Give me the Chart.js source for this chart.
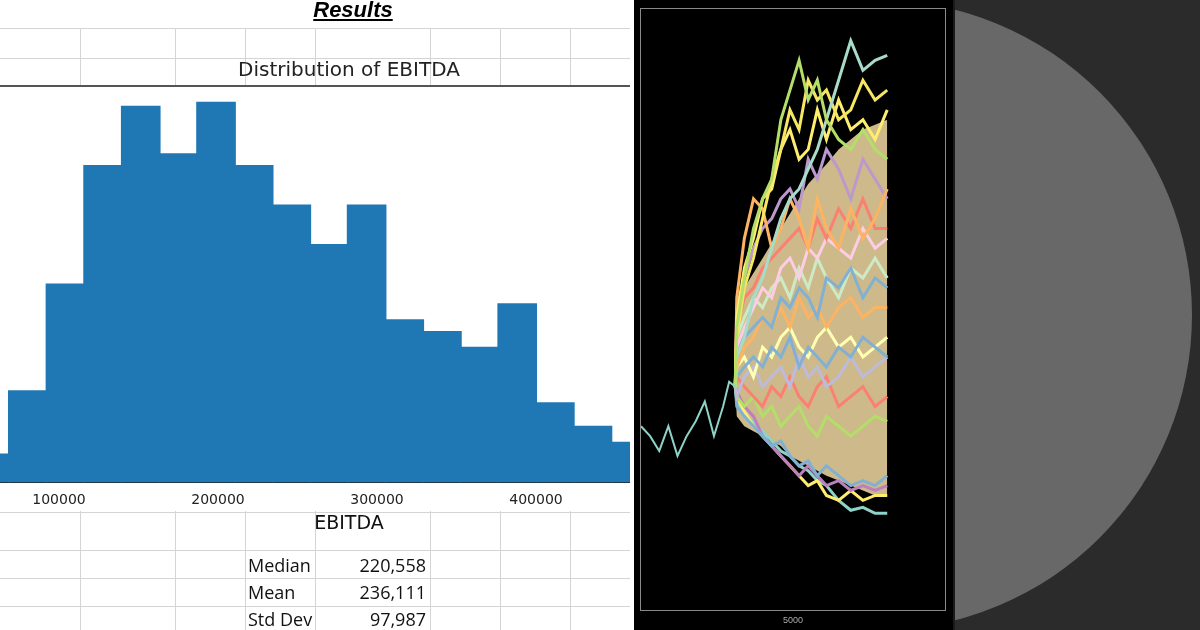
<!DOCTYPE html>
<html>
<head>
<meta charset="utf-8">
<script src="https://cdn.jsdelivr.net/npm/chart.js@4"></script>
<style>
  body { margin: 0; width: 1200px; height: 630px; overflow: hidden; background: #fff; font-family: Calibri, "Liberation Sans", "Open Sans", sans-serif; position: relative; }
  .abs { position: absolute; }
  #sheet { left: 0; top: 0; }
  #histBox { left: 0; top: 87px; width: 630px; height: 424px; background: #fff; }
  #topRule { left: 0; top: 85px; width: 630px; height: 2px; background: #555; }
  #title { left: 0; width: 706px; top: -3px; text-align: center; font: italic bold 22px "Liberation Sans", sans-serif; text-decoration: underline; }
  #subtitle { left: 0; width: 698px; top: 57px; text-align: center; font: 20px "DejaVu Sans", sans-serif; color: #222; }
  #xlabel { left: 0; width: 698px; top: 511px; text-align: center; font: 19px "DejaVu Sans", sans-serif; color: #111; }
  .row { left: 248px; width: 178px; font: 18px "Open Sans", sans-serif; color: #111; }
  .row span { float: right; }
  #mid { left: 634px; top: 0; width: 319px; height: 630px; background: #000; }
  #frame { left: 640px; top: 8px; width: 304px; height: 601px; border: 1px solid #8a8a8a; }
  #pathBox { left: 641px; top: 9px; width: 304px; height: 620px; }
  #right { left: 953px; top: 0; width: 247px; height: 630px; background: #2b2b2b; overflow: hidden; border-left: 2px solid #1a1a1a; }
  #disc { left: -393px; top: 0; width: 630px; height: 630px; border-radius: 50%; background: #686868; }
</style>
</head>
<body>
<canvas id="sheet" class="abs" width="630" height="630"></canvas>
<div id="title" class="abs">Results</div>
<div id="subtitle" class="abs">Distribution of EBITDA</div>
<div id="histBox" class="abs"><canvas id="hist"></canvas></div>
<div id="topRule" class="abs"></div>
<div id="xlabel" class="abs">EBITDA</div>
<div class="abs row" style="top:553px">Median<span>220,558</span></div>
<div class="abs row" style="top:580px">Mean<span>236,111</span></div>
<div class="abs row" style="top:607px">Std Dev<span>97,987</span></div>
<div id="mid" class="abs"></div>
<div id="frame" class="abs"></div>
<div id="pathBox" class="abs"><canvas id="paths"></canvas></div>
<div id="right" class="abs"><div id="disc" class="abs"></div></div>
<script>
// Histogram data (bin edges and counts)
const binStart = 44875;
const binWidth = 23675;
const binCounts = [7, 23, 50, 80, 95, 83, 96, 80, 70, 60, 70, 41, 38, 34, 45, 20, 14, 10];
const histTicks = [100000, 200000, 300000, 400000];

// Simulated paths, heights given as pixel rows
const histX = [0, 300, 600, 900, 1200, 1500, 1800, 2100, 2400, 2700, 2900, 3100];
const histY = [430, 440, 455, 430, 460, 440, 425, 405, 440, 410, 385, 390];
const fanX = [3100, 3150, 3400, 3700, 4000, 4300, 4600, 4900, 5200, 5500, 5800, 6100, 6500, 6900, 7300, 7700, 8100];
const upperEnv = [390, 310, 290, 275, 260, 245, 230, 215, 200, 185, 175, 165, 150, 140, 130, 125, 120];
const lowerEnv = [390, 420, 430, 435, 440, 445, 450, 460, 465, 470, 475, 480, 485, 490, 495, 500, 500];
const fanPaths = [
  ["#b3de69", [390, 330, 280, 230, 200, 180, 120, 90, 60, 100, 80, 120, 140, 150, 130, 150, 160]],
  ["#a8dcc8", [390, 360, 340, 300, 280, 250, 220, 200, 190, 170, 150, 120, 80, 40, 70, 60, 55]],
  ["#f5e663", [390, 340, 290, 260, 220, 180, 150, 110, 130, 80, 100, 90, 120, 110, 80, 100, 90]],
  ["#ffed6f", [390, 320, 270, 240, 200, 190, 150, 130, 160, 150, 110, 140, 100, 130, 120, 140, 110]],
  ["#fdb462", [390, 300, 240, 200, 210, 250, 230, 200, 220, 250, 200, 230, 250, 210, 240, 220, 190]],
  ["#bb99cc", [390, 310, 280, 250, 230, 220, 200, 190, 210, 160, 180, 150, 170, 200, 160, 180, 200]],
  ["#fb8072", [390, 330, 300, 290, 270, 260, 250, 240, 230, 250, 220, 240, 210, 230, 200, 230, 230]],
  ["#fccde5", [390, 350, 330, 310, 290, 300, 270, 260, 280, 250, 260, 240, 250, 260, 230, 250, 240]],
  ["#80b1d3", [390, 350, 340, 330, 320, 330, 300, 310, 290, 300, 320, 280, 290, 270, 300, 280, 290]],
  ["#ccebc5", [390, 340, 320, 300, 310, 290, 280, 300, 270, 290, 260, 280, 300, 270, 280, 260, 280]],
  ["#fdb462", [390, 370, 350, 340, 320, 330, 310, 330, 300, 320, 310, 330, 310, 300, 320, 310, 310]],
  ["#80b1d3", [390, 380, 370, 360, 370, 350, 360, 340, 370, 350, 360, 370, 350, 360, 340, 350, 360]],
  ["#ffffb3", [390, 370, 360, 380, 350, 360, 340, 330, 350, 360, 340, 330, 350, 340, 360, 350, 340]],
  ["#bebada", [390, 400, 380, 370, 390, 380, 370, 390, 360, 380, 370, 390, 380, 360, 380, 370, 360]],
  ["#fb8072", [390, 380, 390, 400, 410, 390, 400, 380, 400, 410, 390, 380, 410, 400, 390, 410, 400]],
  ["#b3de69", [390, 400, 410, 400, 420, 410, 430, 420, 410, 430, 440, 420, 430, 440, 430, 420, 425]],
  ["#80b1d3", [390, 410, 420, 430, 440, 450, 445, 460, 470, 465, 480, 470, 480, 490, 485, 490, 480]],
  ["#bc80bd", [390, 395, 410, 420, 440, 450, 460, 470, 480, 470, 480, 490, 485, 495, 490, 495, 490]],
  ["#ffed6f", [390, 400, 415, 430, 440, 450, 460, 470, 480, 490, 485, 500, 505, 495, 505, 500, 500]],
  ["#8dd3c7", [390, 405, 420, 425, 435, 445, 455, 460, 470, 475, 485, 490, 505, 515, 512, 518, 518]]
];

// Spreadsheet grid behind everything
const sheet = document.getElementById("sheet").getContext("2d");
sheet.strokeStyle = "#d4d4d4";
sheet.lineWidth = 1;
[80, 175, 245, 315, 430, 500, 570].forEach(x => {
  sheet.beginPath(); sheet.moveTo(x + 0.5, 28); sheet.lineTo(x + 0.5, 630); sheet.stroke();
});
[28, 58, 512, 550, 578, 606].forEach(y => {
  sheet.beginPath(); sheet.moveTo(0, y + 0.5); sheet.lineTo(630, y + 0.5); sheet.stroke();
});

const toVal = px => 610 - px;

new Chart(document.getElementById("hist"), {
  type: "bar",
  data: {
    datasets: [{
      data: binCounts.map((c, i) => ({ x: binStart + (i + 0.5) * binWidth, y: c })),
      backgroundColor: "#1f77b4",
      barPercentage: 1,
      categoryPercentage: 1,
      borderWidth: 0,
      inflateAmount: 1
    }]
  },
  options: {
    responsive: true, maintainAspectRatio: false, animation: false,
    layout: { padding: 0 },
    plugins: { legend: { display: false }, tooltip: { enabled: false } },
    scales: {
      x: {
        type: "linear", min: 62900, max: 459100, offset: false,
        grid: { display: false, offset: false },
        border: { display: true, color: "#222", width: 2 },
        afterBuildTicks: axis => { axis.ticks = histTicks.map(v => ({ value: v })); },
        ticks: { callback: v => String(v), color: "#222", font: { size: 14, family: "DejaVu Sans" }, maxRotation: 0, padding: 2 }
      },
      y: { display: false, min: 0, max: 100 }
    }
  }
});

const pathSets = [
  { data: histX.map((x, i) => ({ x, y: toVal(histY[i]) })), borderColor: "#8dd3c7", borderWidth: 2, pointRadius: 0, order: 0 },
  { data: fanX.map((x, i) => ({ x, y: toVal(upperEnv[i]) })), borderColor: "transparent", backgroundColor: "#cdb98a", fill: "+1", pointRadius: 0, order: 10 },
  { data: fanX.map((x, i) => ({ x, y: toVal(lowerEnv[i]) })), borderColor: "transparent", pointRadius: 0, order: 11 }
];
fanPaths.forEach(([color, ys]) => {
  pathSets.push({ data: fanX.map((x, i) => ({ x, y: toVal(ys[i]) })), borderColor: color, borderWidth: 3, pointRadius: 0, order: 1 });
});

new Chart(document.getElementById("paths"), {
  type: "line",
  data: { datasets: pathSets },
  options: {
    responsive: true, maintainAspectRatio: false, animation: false,
    layout: { padding: 0 },
    plugins: { legend: { display: false }, tooltip: { enabled: false } },
    scales: {
      x: {
        type: "linear", min: 0, max: 10000,
        grid: { display: false },
        border: { display: false },
        afterBuildTicks: axis => { axis.ticks = [{ value: 5000 }]; },
        ticks: { callback: v => String(v), color: "#aaa", font: { size: 9 }, maxRotation: 0 }
      },
      y: { display: false, min: 0, max: 602 }
    }
  }
});
</script>
</body>
</html>
